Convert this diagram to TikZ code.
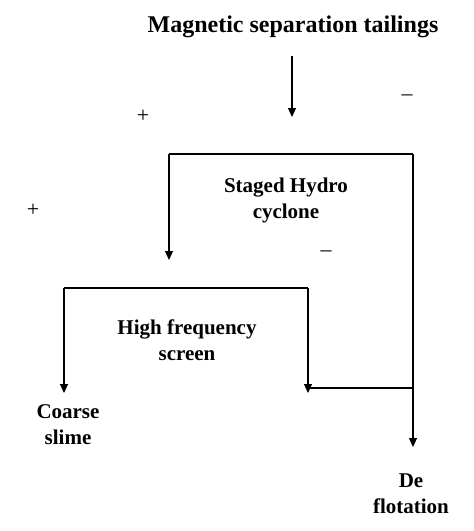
\documentclass[tikz,border=0pt]{standalone}
\usepackage{fontspec}
\setmainfont{Liberation Serif}
\usetikzlibrary{arrows.meta}
\tikzset{
  lbl/.style={font=\fontsize{21}{26}\selectfont\bfseries, align=center, inner sep=0pt},
  ttl/.style={font=\fontsize{24}{28}\selectfont\bfseries, inner sep=0pt},
  sgn/.style={font=\fontsize{22}{24}\selectfont, inner sep=0pt},
  ln/.style={line width=1.1pt},
  arr/.style={ln, -{Triangle[width=8pt,length=9pt]}}
}
\begin{document}
\begin{tikzpicture}[x=1pt,y=-1pt]
\useasboundingbox (0,0) rectangle (474,531);
% texts
\node[ttl, anchor=base] (title) at (293,32) {Magnetic separation tailings};
\node[lbl] (cyc) at (286,200) {Staged Hydro\\cyclone};
\node[lbl] (hf) at (187,340) {High frequency\\screen};
\node[lbl] (coarse) at (68,425) {Coarse\\slime};
\node[lbl] (defl) at (411,494) {De\\flotation};
\node[sgn] (p1) at (143,116) {+};
\node[sgn] (p2) at (33,210) {+};
\node[sgn] (m1) at (407,98) {–};
\node[sgn] (m2) at (326,254) {–};
% coordinates
\coordinate (feedTop) at (292,56);
\coordinate (feedEnd) at (292,117);
\coordinate (cycTL) at (169,154);
\coordinate (cycTR) at (413,154);
\coordinate (cycUnder) at (169,260);
\coordinate (deIn) at (413,447);
\coordinate (hfTL) at (64,288);
\coordinate (hfTR) at (308,288);
\coordinate (coarseIn) at (64,393);
\coordinate (hfRIn) at (308,393);
\coordinate (join) at (413,388);
\coordinate (joinL) at (308,388);
% connectors
\draw[arr] (feedTop) -- (feedEnd);
\draw[ln] (cycTL) -- (cycTR);
\draw[arr] (cycTL) -- (cycUnder);
\draw[arr] (cycTR) -- (deIn);
\draw[ln] (hfTL) -- (hfTR);
\draw[arr] (hfTL) -- (coarseIn);
\draw[arr] (hfTR) -- (hfRIn);
\draw[ln] (join) -- (joinL);
\end{tikzpicture}
\end{document}
